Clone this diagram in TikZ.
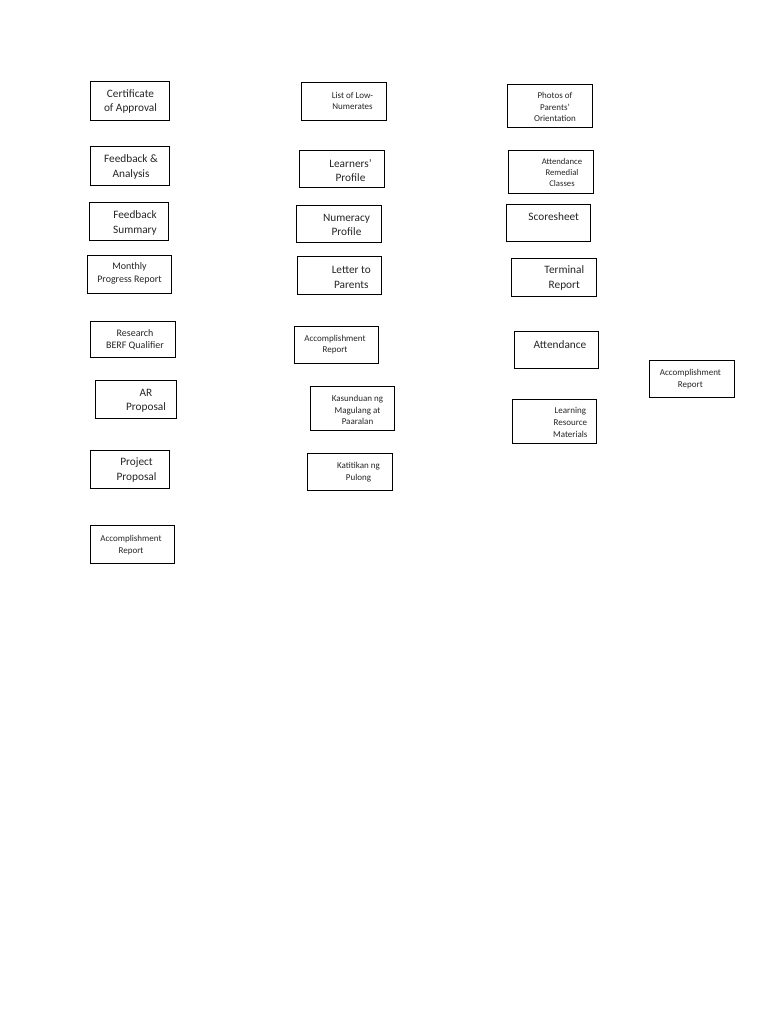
\documentclass[tikz,border=0pt]{standalone}
\usepackage{fontspec}
\setmainfont{Carlito}
\usetikzlibrary{fit}
\tikzset{
  docbox/.style={draw=black, line width=0.9pt, inner sep=0pt},
  txt/.style={align=center, inner sep=0pt, yshift=-1pt, text=black!85},
  big/.style={txt, font=\fontsize{11.3}{14.3}\selectfont},
  mid/.style={txt, font=\fontsize{10}{12.6}\selectfont},
  small/.style={txt, font=\fontsize{9}{11.8}\selectfont},
  tiny/.style={txt, font=\fontsize{8.7}{10.8}\selectfont}
}
% name, x1, y1, x2, y2, text x, text y, text style, text
\newcommand{\docitem}[9]{%
  \node[docbox, fit={(#2,#3) (#4,#5)}] (#1) {};
  \node[#8] (#1t) at (#6,#7) {#9};
}
\begin{document}
\begin{tikzpicture}[x=1pt, y=-1pt]
\useasboundingbox[fill=white] (0,0) rectangle (768,1024);
% column 1
\docitem{a1}{90.7}{81.7}{169.3}{120.3}{130.5}{100.5}{big}{Certificate\\of Approval}
\docitem{a2}{90.7}{146.7}{169.3}{185.7}{131}{166}{big}{Feedback \&\\Analysis}
\docitem{a3}{89.3}{202.7}{168.3}{240.7}{135}{222}{big}{Feedback\\Summary}
\docitem{a4}{87.3}{255.3}{171.3}{293.3}{129.5}{272.5}{mid}{Monthly\\Progress Report}
\docitem{a5}{90.7}{321.7}{175.7}{357.3}{135}{338.5}{mid}{Research\\BERF Qualifier}
\docitem{a6}{95.7}{380.7}{176.3}{418.3}{146}{400}{big}{AR\\Proposal}
\docitem{a7}{90.7}{450}{169.3}{488.7}{136.5}{469}{big}{Project\\Proposal}
\docitem{a8}{90.7}{525.3}{174.3}{563.3}{131}{543.7}{small}{Accomplishment\\Report}
% column 2
\docitem{b1}{301.7}{82.3}{386}{120.3}{352.5}{100}{small}{List of Low-\\Numerates}
\docitem{b2}{299.3}{150}{384}{187.7}{350.5}{169.3}{big}{Learners’\\Profile}
\docitem{b3}{296.3}{205}{381}{242.3}{346.5}{224}{big}{Numeracy\\Profile}
\docitem{b4}{297.3}{256.7}{381.3}{294.3}{351.3}{276.3}{big}{Letter to\\Parents}
\docitem{b5}{294.3}{326}{378}{363.3}{335}{343.5}{small}{Accomplishment\\Report}
\docitem{b6}{310.7}{386.7}{394}{430.7}{357.5}{409}{small}{Kasunduan ng\\Magulang at\\Paaralan}
\docitem{b7}{307.3}{453.3}{392.3}{490.7}{358.5}{471.5}{small}{Katitikan ng\\Pulong}
% column 3
\docitem{c1}{507.3}{84}{592}{127.7}{555}{106}{small}{Photos of\\Parents’\\Orientation}
\docitem{c2}{508.3}{150.7}{593}{193.7}{562}{171.5}{tiny}{Attendance\\Remedial\\Classes}
\docitem{c3}{506.3}{204.3}{590.7}{241}{553.7}{215.3}{big}{Scoresheet}
\docitem{c4}{511.3}{258.7}{596}{296}{564.3}{277}{big}{Terminal\\Report}
\docitem{c5}{514}{331.7}{598.7}{368.7}{560}{343.3}{big}{Attendance}
\docitem{c6}{512}{399.3}{596}{443.3}{570.3}{421.7}{small}{Learning\\Resource\\Materials}
% column 4
\docitem{d1}{649.7}{360.7}{734.3}{397.7}{690.4}{378.3}{small}{Accomplishment\\Report}
\end{tikzpicture}
\end{document}
